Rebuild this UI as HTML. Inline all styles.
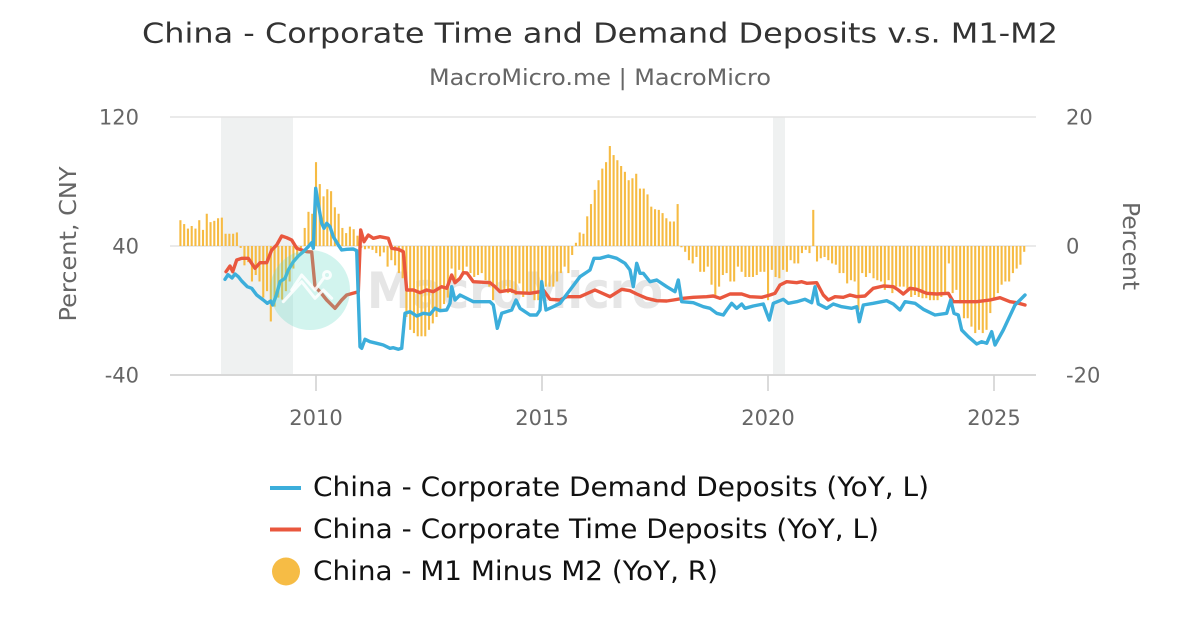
<!DOCTYPE html>
<html>
<head>
<meta charset="utf-8">
<style>
  html,body{margin:0;padding:0;background:#fff;}
  svg{display:block;}
  text{font-family:"DejaVu Sans","Liberation Sans",sans-serif;}
</style>
</head>
<body>
<svg id="chart" width="1200" height="630" viewBox="0 0 1200 630" xmlns="http://www.w3.org/2000/svg">
  <rect x="0" y="0" width="1200" height="630" fill="#ffffff"/>
  <!-- Title -->
  <text x="600" y="42.5" font-size="28" fill="#333333" text-anchor="middle" textLength="916" lengthAdjust="spacingAndGlyphs">China - Corporate Time and Demand Deposits v.s. M1-M2</text>
  <text x="600" y="85" font-size="22" fill="#666666" text-anchor="middle" textLength="342" lengthAdjust="spacingAndGlyphs">MacroMicro.me | MacroMicro</text>

  <!-- recession shading -->
  <rect x="221" y="117" width="72" height="258" fill="#eff1f1"/>
  <rect x="773" y="117" width="12" height="258" fill="#eff1f1"/>

  <!-- grid -->
  <line x1="170" y1="117" x2="1036" y2="117" stroke="#e3e3e3" stroke-width="1.5"/>
  <line x1="170" y1="246" x2="1036" y2="246" stroke="#e3e3e3" stroke-width="1.5"/>
  <line x1="170" y1="375" x2="1036" y2="375" stroke="#d8d8d8" stroke-width="2"/>
  <g stroke="#d2d2d2" stroke-width="1.6">
    <line x1="316" y1="375" x2="316" y2="391"/>
    <line x1="542" y1="375" x2="542" y2="391"/>
    <line x1="768" y1="375" x2="768" y2="391"/>
    <line x1="994" y1="375" x2="994" y2="391"/>
  </g>

  <!-- watermark text -->
  <text x="367" y="308" font-size="50" font-weight="bold" fill="#d6d6d6" fill-opacity="0.6" textLength="296" lengthAdjust="spacingAndGlyphs">MacroMicro</text>

  <!-- bars -->
  <g id="bars" fill="#f6bb43"></g>

  <!-- lines -->
  <polyline id="red" fill="none" stroke="#e9573e" stroke-width="3.4" stroke-linejoin="round" stroke-linecap="round" points="226,271.7 230,266 232.7,271.7 236.7,260 241.7,258.3 248.3,258.3 255,268.3 260,262.7 266.7,262.7 271.7,250 276.7,245 281.7,236 286.7,237.7 291.7,240 296.7,248.3 301.7,250 306.7,251.7 311.7,252 315,286.7 320,291.7 326.7,300 335,308.3 341.7,300 346.7,295 358.3,291.7 360.7,230 364,241.7 368.3,235 373.3,238.3 380,236.7 388.3,238.3 391.7,248.3 398.3,249.3 403.3,251.7 406.7,290 413.3,290 420,292.7 426.7,290 433.3,291.7 441.7,286.7 446.7,288.3 451.7,275 455,282.7 460,278.3 463.3,272.7 467,273 473.3,281.7 490,282.7 495,286.7 500,291.7 510,290 516.7,292.7 530,293.3 540,291.7 543.3,290 550,299.3 560,300 566.7,296.7 580,296.7 595,290 610,296.7 621.7,289.3 630,290.7 636.7,294 646.7,298.3 656.7,300.7 666.7,301 673.3,300 683.3,298.3 693.3,297.3 706.7,296.7 713.3,296 720,298.3 730,294 741.7,294 750,296.7 761.7,297.3 770,295 775,293.3 780,285 786.7,281.7 796.7,282.7 801.7,281.7 806.7,283.3 816.7,282.7 823.3,295 828.3,300 835,296.7 843.3,297.3 850,295 856.7,296.7 865,296 873.3,288.3 883.3,286 893.3,286.7 898.3,290 903.3,294 910,288.3 916.7,289.3 926.7,293.3 936.7,294 948.3,293.3 953.3,301.7 963.3,301.7 976.7,301.7 990,300 1000,297.7 1010,301.7 1016.7,302.7 1025,305"/>
  <polyline id="blue" fill="none" stroke="#3caedb" stroke-width="3.4" stroke-linejoin="round" stroke-linecap="round" points="225,279.3 228,274.7 232,278 235,274 238.3,276.7 241.7,281 247.3,286.7 251.7,288.3 256.7,295 263.3,300 267.3,303.3 270.7,301 272.7,305 276.7,294 280,281.7 285,278.3 288.3,270 293.3,261.7 298.3,256 303.3,251.7 308.3,246.7 311.7,242.7 313.3,248.3 315.7,188.3 319.3,210 321.7,223.3 324,228.3 326.7,223.3 330,226.7 333.3,236.7 338.3,245 341.7,250 346.7,249.3 353.3,249 356.7,250.7 360,346.7 361.7,348.3 365,339.3 370,341.7 376.7,343.3 383.3,345 390,348.3 393.3,347.7 398.3,349.3 401.7,348.3 405,313.3 410,311.7 416.7,316 423.3,313.3 430,314.3 435,308.3 440,310.7 446.7,310 450,303.3 451.7,286.7 455,300 460,295 473.3,301.7 490,301.7 493.3,305 497.3,328.3 501.7,313.3 511.7,310 516,300 520,308.3 530,315 536.7,315 540,310 541.7,281.7 546,310 553.3,306.7 560,303.3 570,290 580,276.7 590,270 594,258.3 600,258.3 608.3,256 616.7,258.3 625,263.3 630,270 633.3,286.7 636.7,263.3 640,273.3 643.3,273.3 650,281.7 656.7,280 666.7,286.7 675,291.7 678.3,280 681.7,301.7 693.3,302.7 703.3,306.7 710,308.3 716.7,313.3 723.3,315 726.7,310 731.7,303.3 736.7,308.3 741.7,304 745,308.3 753.3,306 763.3,304 769.3,320 773.3,303.3 783.3,299.3 788.3,303.3 796.7,301.7 805,299.3 811.7,302.7 815,286.7 818.3,304 826.7,308.3 833.3,304 841.7,306.7 851.7,308.3 856.7,306.7 859.3,321.7 863.3,305 873.3,303.3 886.7,300.7 893.3,304 900,310 905,301.7 915,303.3 923.3,309.3 935,315 946.7,313.3 950.7,300 954,313.3 958.3,315 961.7,330 968.3,336.7 976.7,344 981.7,341.7 986.7,343.3 991.7,331.7 995,345 1003.3,330 1015,305 1025,295"/>

  <!-- watermark circle + logo -->
  <circle cx="310" cy="290" r="40" fill="#5fd8c2" fill-opacity="0.28"/>
  <g fill="none" stroke="#ffffff" stroke-width="3" stroke-opacity="0.85" stroke-linejoin="round" stroke-linecap="round">
    <polyline points="291.7,290 301.7,275 315,290 323,279"/>
    <polyline points="283.3,301.7 301.7,281.7 315,298.3 323.3,290 331.7,298.3"/>
    <circle cx="327" cy="275" r="3.5"/>
  </g>

  <!-- axis labels -->
  <g font-size="21" fill="#666666">
    <text x="139" y="124.5" text-anchor="end">120</text>
    <text x="139" y="253.5" text-anchor="end">40</text>
    <text x="139" y="382.5" text-anchor="end">-40</text>
    <text x="1066" y="124.5">20</text>
    <text x="1066" y="253.5">0</text>
    <text x="1066" y="382.5">-20</text>
    <text x="316" y="425" text-anchor="middle">2010</text>
    <text x="542" y="425" text-anchor="middle">2015</text>
    <text x="768" y="425" text-anchor="middle">2020</text>
    <text x="994" y="425" text-anchor="middle">2025</text>
  </g>
  <text transform="translate(76,244) rotate(-90)" font-size="23" fill="#666666" text-anchor="middle" textLength="155" lengthAdjust="spacingAndGlyphs">Percent, CNY</text>
  <text transform="translate(1123,246) rotate(90)" font-size="23" fill="#666666" text-anchor="middle" textLength="88" lengthAdjust="spacingAndGlyphs">Percent</text>

  <!-- legend -->
  <line x1="270" y1="488" x2="301" y2="488" stroke="#3caedb" stroke-width="4"/>
  <text x="313" y="496" font-size="27" fill="#111111" textLength="616" lengthAdjust="spacingAndGlyphs">China - Corporate Demand Deposits (YoY, L)</text>
  <line x1="270" y1="529.5" x2="301" y2="529.5" stroke="#e9573e" stroke-width="4"/>
  <text x="313" y="538" font-size="27" fill="#111111" textLength="566" lengthAdjust="spacingAndGlyphs">China - Corporate Time Deposits (YoY, L)</text>
  <circle cx="286" cy="571.5" r="14" fill="#f6bc45"/>
  <text x="313" y="580" font-size="27" fill="#111111" textLength="405" lengthAdjust="spacingAndGlyphs">China - M1 Minus M2 (YoY, R)</text>
</svg>
<script>
(function(){
  var A = [
    4.0,3.4,2.7,3.1,2.7,4.0,2.5,5.0,3.7,3.9,4.3,4.4,
    1.9,1.9,1.9,2.1,-0.3,
    -3.0,-2.5,-5.5,-4.5,-5.5,-8.0,-7.0,-11.7,-9.4,-8.0,-8.3,-7.0,-5.5,-3.5,-1.5,
    -0.3,
    2.8,5.3,5.0,
    13.0,9.6,7.7,8.8,8.5,6.0,5.0,2.8,2.0,3.0,2.6,1.6,
    -0.3,-0.5,-0.4,-0.6,-1.1,-1.6,-1.0,-3.2,-2.2,-3.0,-4.2,-5.0,
    -11,-13,-13.5,-14,-14,-14,-13,-12,-11,-10,-9,-8,
    -3.5,-5.3,-3.7,-4.2,-3.2,-4.2,-4.8,-4.5,-4.2,-5.3,-6.3,-8.4,-6.3,-7.1,-6.8,-7.3,-7.3,-7.6,-5.8,-7.9,-7.3,-7.3,-8.4,-8.4,-7.3,-6.3,-6.3,-6.3,-5.5,-4.2,-3.2,-4.2,-1.4,
    0.5,2.1,1.9,4.6,6.5,8.7,10.2,12,13,15.5,14.1,13.3,12.4,11.5,10.2,10.5,11.2,8.9,8.9,8.0,6.1,5.7,5.6,5.1,4.3,3.8,3.8,6.5,
    -0.2,
    -0.9,-2.2,-2.7,-1.7,-4.0,-4.0,-3.2,-6.0,-7.8,-6.3,-4.5,-4.2,-5.5,-5.5
  ];
  var B = [[25,-3.2],[38,-4.0],[50,-4.8],[62,-4.8],[75,-4.8],[88,-4.5],[100,-4.0],[115,-8.4],[128,-3.7],[140,-4.8],[152,-5.0],[165,-3.7],[178,-4.0],[190,-2.2],[205,-2.7],[218,-1.1],[230,-0.6],[242,-1.1],[254,5.6],[266,-2.4],[278,-1.9],[290,-1.7],[302,-2.2],[314,-2.7],[326,-2.9],[340,-4.2],[352,-5.8],[364,-5.3],[376,-5.5],[386,-9.9],[400,-4.2],[412,-4.8],[424,-4.2],[436,-5.0],[448,-5.3],[460,-5.5],[472,-6.8],[484,-5.3],[496,-7.3],[508,-6.3],[520,-6.3],[532,-7.1],[545,-7.9],[557,-7.6],[568,-7.9],[580,-8.1],[592,-8.1],[604,-8.4],[616,-8.4],[628,-8.4],[640,-7.9],[650,-7.6],[662,-2.7],[672,-7.3],[684,-6.8],[696,-8.9],[706,-11.2],[718,-11.2],[728,-12.5],[740,-13.5],[752,-13.0],[764,-13.5],[776,-13.0],[788,-10.4],[800,-8.1],[812,-7.3],[824,-6.0],[836,-5.5],[848,-4.2],[860,-3.5],[872,-2.9],[884,-0.9]];
  var g = document.getElementById('bars');
  var ns = 'http://www.w3.org/2000/svg';
  for (var m = 0; m <= 224; m++) {
    var v;
    if (m < A.length) { v = A[m]; }
    else {
      var best = null, bd = 1e9;
      for (var i = 0; i < B.length; i++) {
        var mf = 145.5 + B[i][0] / 11.3;
        var d = Math.abs(mf - m);
        if (d < bd) { bd = d; best = B[i][1]; }
      }
      v = best;
    }
    var x = 180.4 + 3.767 * m;
    var h = v * 6.45;
    var r = document.createElementNS(ns, 'rect');
    r.setAttribute('x', (x - 1.05).toFixed(2));
    r.setAttribute('width', '2.1');
    if (h >= 0) { r.setAttribute('y', (246 - h).toFixed(2)); r.setAttribute('height', h.toFixed(2)); }
    else { r.setAttribute('y', '246'); r.setAttribute('height', (-h).toFixed(2)); }
    g.appendChild(r);
  }
})();
</script>
</body>
</html>
